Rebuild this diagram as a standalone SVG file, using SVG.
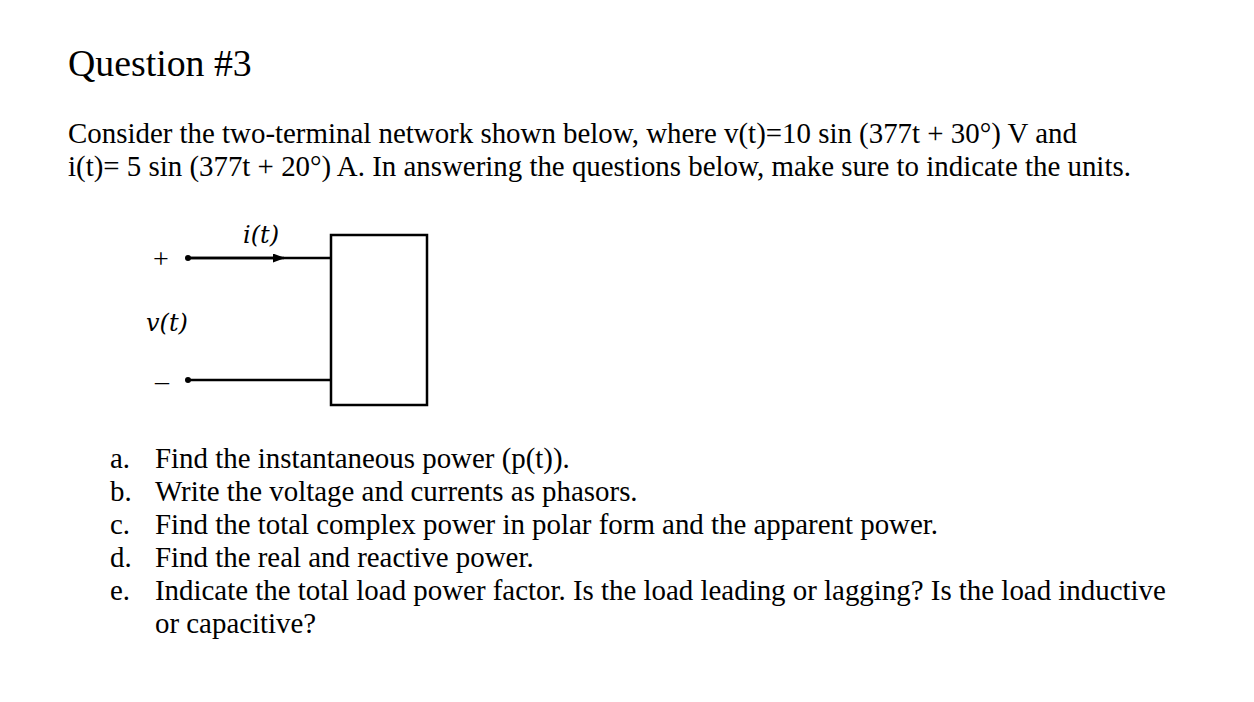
<svg xmlns="http://www.w3.org/2000/svg" width="1254" height="702" viewBox="0 0 1254 702">
<style>
.t{font-family:"Liberation Serif",serif;font-size:28.9px;fill:#000}
.m{font-family:"DejaVu Serif",serif;font-style:italic;font-size:24px;fill:#000}
.w{stroke:#000;stroke-width:2.5;fill:none}
</style>
<defs><marker id="a" markerWidth="12" markerHeight="9" refX="11" refY="4.5" orient="auto" markerUnits="userSpaceOnUse"><path d="M0,0L12,4.5L0,9z" fill="#000"/></marker></defs>
<rect width="1254" height="702" fill="#fff"/>
<text x="68" y="76" style="font-family:'Liberation Serif',serif;font-size:37.8px">Question #3</text>
<text class="t" x="68" y="143">Consider the two-terminal network shown below, where v(t)=10 sin (377t + 30°) V and</text>
<text class="t" x="68" y="176">i(t)= 5 sin (377t + 20°) A. In answering the questions below, make sure to indicate the units.</text>
<g id="load"><rect class="w" x="331" y="235" width="96" height="170"/></g>
<g id="connectors">
<line class="w" x1="188" y1="258" x2="331" y2="258"/>
<line class="w" x1="188" y1="258" x2="284" y2="258" marker-end="url(#a)"/>
<line class="w" x1="188" y1="380" x2="331" y2="380"/>
<circle cx="188" cy="258" r="3"/><circle cx="188" cy="380" r="3"/>
</g>
<g id="labels">
<text class="m" x="243" y="243">i(t)</text>
<text class="t" x="153" y="268" style="font-size:28px">+</text>
<text class="m" x="146" y="331">v(t)</text>
<text class="t" x="155" y="390" style="font-size:28px">–</text>
</g>
<g id="list">
<text class="t" x="110" y="468">a.</text><text class="t" x="155" y="468">Find the instantaneous power (p(t)).</text>
<text class="t" x="110" y="501">b.</text><text class="t" x="155" y="501">Write the voltage and currents as phasors.</text>
<text class="t" x="110" y="534">c.</text><text class="t" x="155" y="534">Find the total complex power in polar form and the apparent power.</text>
<text class="t" x="110" y="567">d.</text><text class="t" x="155" y="567">Find the real and reactive power.</text>
<text class="t" x="110" y="600">e.</text><text class="t" x="155" y="600">Indicate the total load power factor. Is the load leading or lagging? Is the load inductive</text>
<text class="t" x="155" y="633">or capacitive?</text>
</g>
</svg>
